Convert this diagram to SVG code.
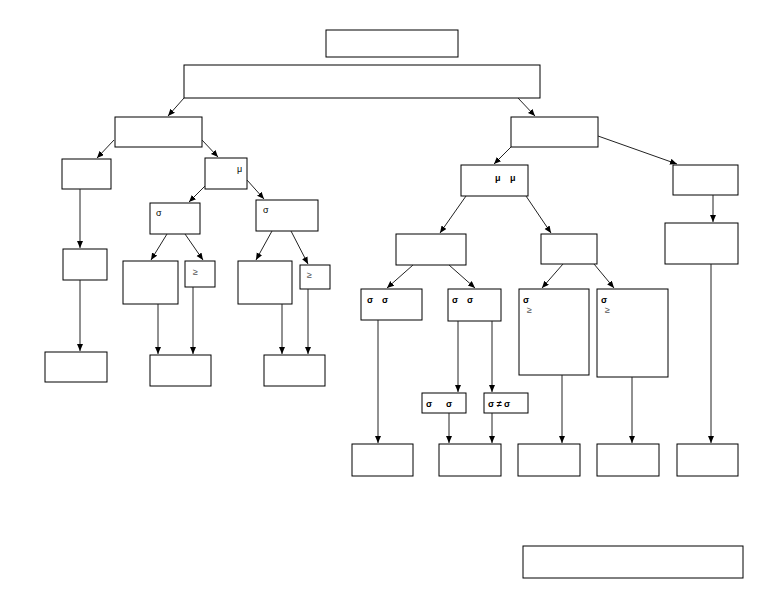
<svg xmlns="http://www.w3.org/2000/svg" width="768" height="594" viewBox="0 0 768 594">
<style>
rect{fill:#fff;stroke:#000;stroke-width:1}
line{stroke:#222;stroke-width:1;marker-end:url(#a)}
text{font-family:"Liberation Sans",Arial,sans-serif;font-size:9px;fill:#000}
.b{font-weight:bold}
.g{fill:#555}
</style>
<defs><marker id="a" markerWidth="8" markerHeight="8" refX="7" refY="3" orient="auto" markerUnits="userSpaceOnUse"><path d="M0,0L7,3L0,6z" fill="#000"/></marker></defs>
<rect width="768" height="594" style="stroke:none"/>
<g id="nodes">
<g id="n1"><rect x="326" y="30" width="132" height="27"/></g>
<g id="n2"><rect x="184" y="65" width="356" height="33"/></g>
<g id="n3"><rect x="115" y="117" width="87" height="30"/></g>
<g id="n4"><rect x="511" y="117" width="87" height="30"/></g>
<g id="n5"><rect x="62" y="159" width="49" height="30"/></g>
<g id="n6"><rect x="205" y="158" width="42" height="31"/><text x="237" y="172">μ</text></g>
<g id="n7"><rect x="150" y="203" width="50" height="31"/><text x="156" y="216">σ</text></g>
<g id="n8"><rect x="256" y="200" width="62" height="31"/><text x="263" y="213">σ</text></g>
<g id="n9"><rect x="63" y="249" width="44" height="31"/></g>
<g id="n10"><rect x="45" y="352" width="62" height="30"/></g>
<g id="n11"><rect x="123" y="261" width="55" height="43"/></g>
<g id="n12"><rect x="185" y="261" width="30" height="26"/><text x="193" y="275" class="g">≥</text></g>
<g id="n13"><rect x="238" y="261" width="54" height="43"/></g>
<g id="n14"><rect x="300" y="265" width="30" height="24"/><text x="307" y="278" class="g">≥</text></g>
<g id="n15"><rect x="150" y="355" width="61" height="31"/></g>
<g id="n16"><rect x="264" y="355" width="61" height="31"/></g>
<g id="n17"><rect x="461" y="165" width="67" height="31"/><text x="495" y="181" class="b">μ</text><text x="510" y="181" class="b">μ</text></g>
<g id="n18"><rect x="673" y="165" width="65" height="30"/></g>
<g id="n19"><rect x="665" y="223" width="73" height="41"/></g>
<g id="n20"><rect x="396" y="234" width="70" height="31"/></g>
<g id="n21"><rect x="541" y="234" width="56" height="30"/></g>
<g id="n22"><rect x="361" y="289" width="61" height="31"/><text x="367" y="303" class="b">σ</text><text x="382" y="303" class="b">σ</text></g>
<g id="n23"><rect x="448" y="289" width="53" height="32"/><text x="452" y="303" class="b">σ</text><text x="467" y="303" class="b">σ</text></g>
<g id="n24"><rect x="519" y="289" width="70" height="86"/><text x="523" y="303" class="b">σ</text><text x="527" y="313" class="g">≥</text></g>
<g id="n25"><rect x="597" y="289" width="71" height="88"/><text x="601" y="303" class="b">σ</text><text x="605" y="313" class="g">≥</text></g>
<g id="n26"><rect x="422" y="393" width="44" height="20"/><text x="426" y="407" class="b">σ</text><text x="446" y="407" class="b">σ</text></g>
<g id="n27"><rect x="484" y="393" width="44" height="20"/><text x="488" y="407" class="b">σ ≠ σ</text></g>
<g id="n28"><rect x="352" y="444" width="61" height="32"/></g>
<g id="n29"><rect x="439" y="444" width="62" height="32"/></g>
<g id="n30"><rect x="518" y="444" width="62" height="32"/></g>
<g id="n31"><rect x="597" y="444" width="62" height="32"/></g>
<g id="n32"><rect x="677" y="444" width="61" height="32"/></g>
<g id="n33"><rect x="523" y="546" width="220" height="32"/></g>
</g>
<g id="connectors">
<line x1="184" y1="98" x2="168" y2="116"/>
<line x1="518" y1="98" x2="535" y2="116"/>
<line x1="114" y1="140" x2="97" y2="158"/>
<line x1="202" y1="140" x2="218" y2="157"/>
<line x1="80" y1="189" x2="80" y2="248"/>
<line x1="80" y1="280" x2="80" y2="351"/>
<line x1="205" y1="186" x2="189" y2="202"/>
<line x1="247" y1="180" x2="264" y2="199"/>
<line x1="167" y1="234" x2="151" y2="260"/>
<line x1="185" y1="234" x2="203" y2="260"/>
<line x1="272" y1="231" x2="256" y2="260"/>
<line x1="291" y1="231" x2="308" y2="264"/>
<line x1="158" y1="304" x2="158" y2="354"/>
<line x1="193" y1="287" x2="193" y2="354"/>
<line x1="282" y1="304" x2="282" y2="354"/>
<line x1="308" y1="289" x2="308" y2="354"/>
<line x1="511" y1="147" x2="494" y2="164"/>
<line x1="598" y1="136" x2="677" y2="164"/>
<line x1="466" y1="196" x2="440" y2="233"/>
<line x1="526" y1="196" x2="551" y2="233"/>
<line x1="413" y1="265" x2="387" y2="288"/>
<line x1="449" y1="265" x2="475" y2="288"/>
<line x1="563" y1="264" x2="542" y2="288"/>
<line x1="594" y1="264" x2="614" y2="288"/>
<line x1="378" y1="320" x2="378" y2="443"/>
<line x1="458" y1="321" x2="458" y2="392"/>
<line x1="492" y1="321" x2="492" y2="392"/>
<line x1="449" y1="413" x2="449" y2="443"/>
<line x1="492" y1="413" x2="492" y2="443"/>
<line x1="562" y1="375" x2="562" y2="443"/>
<line x1="632" y1="377" x2="632" y2="443"/>
<line x1="713" y1="195" x2="713" y2="222"/>
<line x1="711" y1="264" x2="711" y2="443"/>
</g>
</svg>
